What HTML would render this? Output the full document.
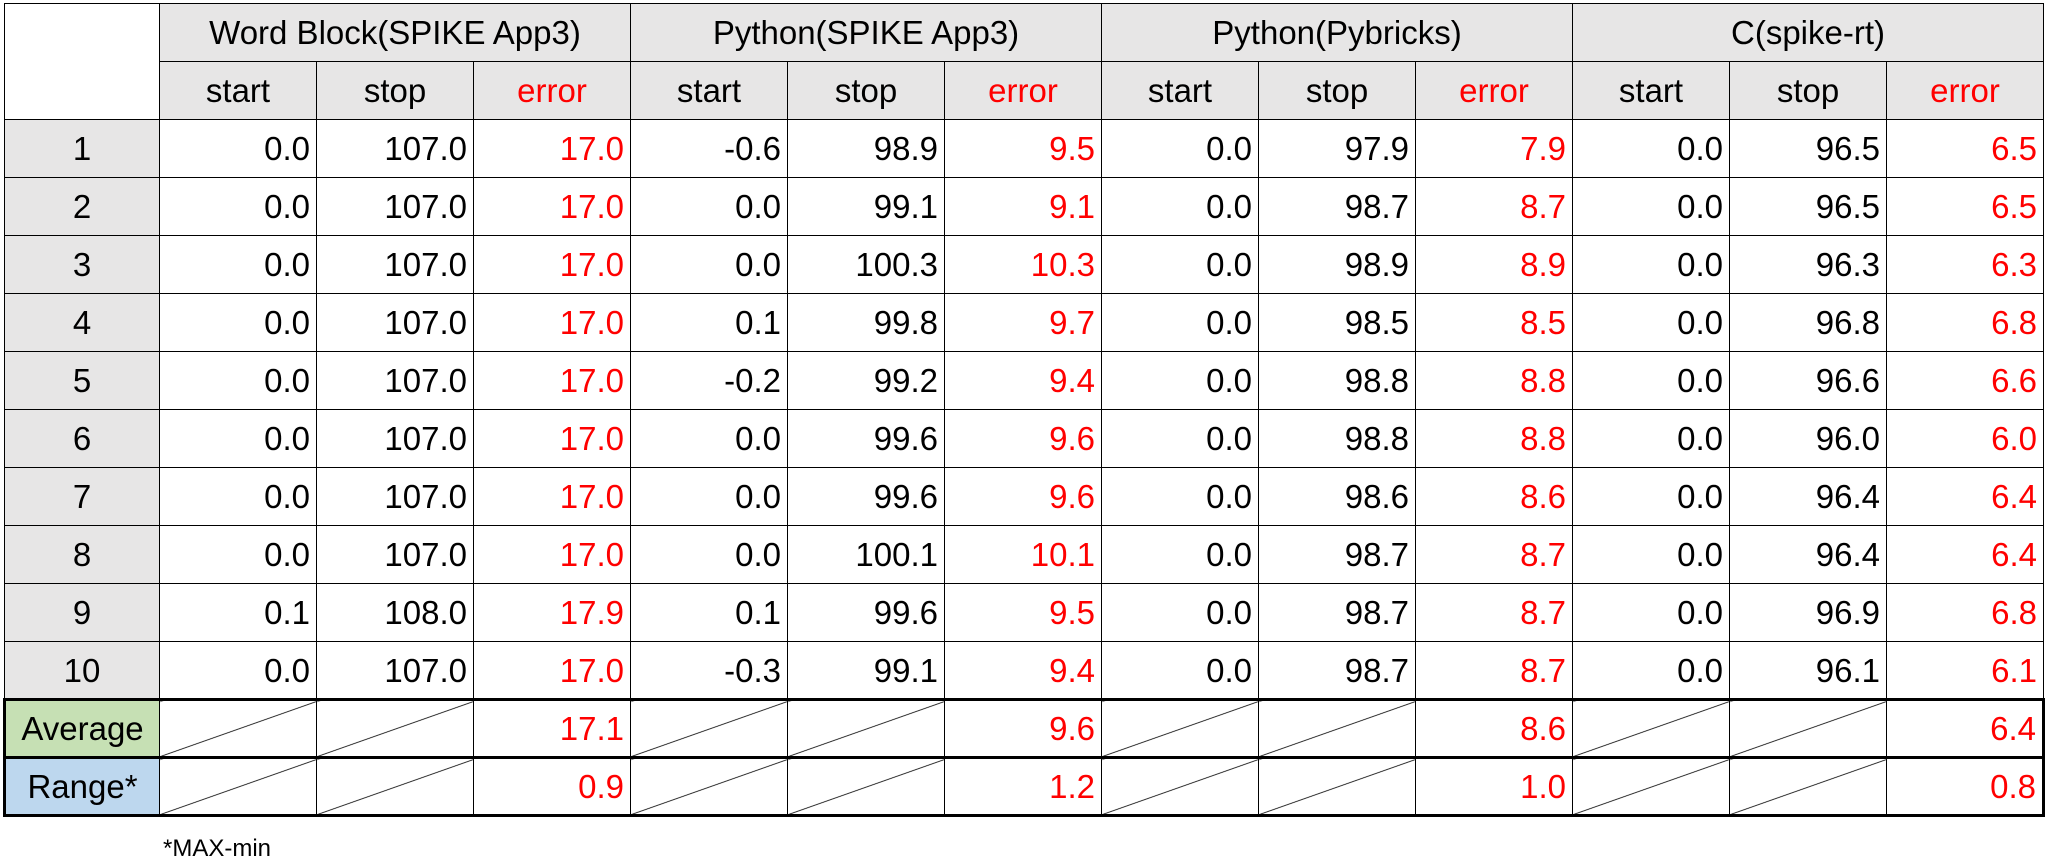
<!DOCTYPE html>
<html><head><meta charset="utf-8">
<style>
html,body{margin:0;padding:0;background:#fff;width:2046px;height:865px;overflow:hidden}
table{position:absolute;left:3px;top:3px;border-collapse:collapse;table-layout:fixed;font-family:"Liberation Sans",Arial,sans-serif;font-size:33px;color:#000}
td{border:1.5px solid #000;height:58px;padding:0 6px 0 0;box-sizing:border-box;text-align:right;white-space:nowrap;line-height:1}
td.h{background:#e7e6e6;text-align:center;padding:0}
td.l{background:#e7e6e6;text-align:center;padding:0}
.r{color:#f00}
td.g{background:#c6e0b4;text-align:center;padding:0}
td.b{background:#bdd7ee;text-align:center;padding:0}
td.d{background:linear-gradient(to bottom right,transparent calc(50% - 0.8px),#000 50%,transparent calc(50% + 0.8px))}
tr.t td{border-top:3px solid #000;border-bottom:3px solid #000}
tr.t td:first-child{border-left:3px solid #000}
tr.t td:last-child{border-right:3px solid #000}
.note{position:absolute;left:163px;top:835px;font-family:"Liberation Sans",Arial,sans-serif;font-size:24px}
</style></head><body>
<table>
<colgroup><col style="width:155px"><col span="12" style="width:157px"></colgroup>
<tr><td rowspan="2" style="background:#fff"></td><td class="h" colspan="3">Word Block(SPIKE App3)</td><td class="h" colspan="3">Python(SPIKE App3)</td><td class="h" colspan="3">Python(Pybricks)</td><td class="h" colspan="3">C(spike-rt)</td></tr>
<tr><td class="h">start</td><td class="h">stop</td><td class="h r">error</td><td class="h">start</td><td class="h">stop</td><td class="h r">error</td><td class="h">start</td><td class="h">stop</td><td class="h r">error</td><td class="h">start</td><td class="h">stop</td><td class="h r">error</td></tr>
<tr><td class="l">1</td><td>0.0</td><td>107.0</td><td class="r">17.0</td><td>-0.6</td><td>98.9</td><td class="r">9.5</td><td>0.0</td><td>97.9</td><td class="r">7.9</td><td>0.0</td><td>96.5</td><td class="r">6.5</td></tr>
<tr><td class="l">2</td><td>0.0</td><td>107.0</td><td class="r">17.0</td><td>0.0</td><td>99.1</td><td class="r">9.1</td><td>0.0</td><td>98.7</td><td class="r">8.7</td><td>0.0</td><td>96.5</td><td class="r">6.5</td></tr>
<tr><td class="l">3</td><td>0.0</td><td>107.0</td><td class="r">17.0</td><td>0.0</td><td>100.3</td><td class="r">10.3</td><td>0.0</td><td>98.9</td><td class="r">8.9</td><td>0.0</td><td>96.3</td><td class="r">6.3</td></tr>
<tr><td class="l">4</td><td>0.0</td><td>107.0</td><td class="r">17.0</td><td>0.1</td><td>99.8</td><td class="r">9.7</td><td>0.0</td><td>98.5</td><td class="r">8.5</td><td>0.0</td><td>96.8</td><td class="r">6.8</td></tr>
<tr><td class="l">5</td><td>0.0</td><td>107.0</td><td class="r">17.0</td><td>-0.2</td><td>99.2</td><td class="r">9.4</td><td>0.0</td><td>98.8</td><td class="r">8.8</td><td>0.0</td><td>96.6</td><td class="r">6.6</td></tr>
<tr><td class="l">6</td><td>0.0</td><td>107.0</td><td class="r">17.0</td><td>0.0</td><td>99.6</td><td class="r">9.6</td><td>0.0</td><td>98.8</td><td class="r">8.8</td><td>0.0</td><td>96.0</td><td class="r">6.0</td></tr>
<tr><td class="l">7</td><td>0.0</td><td>107.0</td><td class="r">17.0</td><td>0.0</td><td>99.6</td><td class="r">9.6</td><td>0.0</td><td>98.6</td><td class="r">8.6</td><td>0.0</td><td>96.4</td><td class="r">6.4</td></tr>
<tr><td class="l">8</td><td>0.0</td><td>107.0</td><td class="r">17.0</td><td>0.0</td><td>100.1</td><td class="r">10.1</td><td>0.0</td><td>98.7</td><td class="r">8.7</td><td>0.0</td><td>96.4</td><td class="r">6.4</td></tr>
<tr><td class="l">9</td><td>0.1</td><td>108.0</td><td class="r">17.9</td><td>0.1</td><td>99.6</td><td class="r">9.5</td><td>0.0</td><td>98.7</td><td class="r">8.7</td><td>0.0</td><td>96.9</td><td class="r">6.8</td></tr>
<tr><td class="l">10</td><td>0.0</td><td>107.0</td><td class="r">17.0</td><td>-0.3</td><td>99.1</td><td class="r">9.4</td><td>0.0</td><td>98.7</td><td class="r">8.7</td><td>0.0</td><td>96.1</td><td class="r">6.1</td></tr>
<tr class="t"><td class="g">Average</td><td class="d"></td><td class="d"></td><td class="r">17.1</td><td class="d"></td><td class="d"></td><td class="r">9.6</td><td class="d"></td><td class="d"></td><td class="r">8.6</td><td class="d"></td><td class="d"></td><td class="r">6.4</td></tr>
<tr class="t"><td class="b">Range*</td><td class="d"></td><td class="d"></td><td class="r">0.9</td><td class="d"></td><td class="d"></td><td class="r">1.2</td><td class="d"></td><td class="d"></td><td class="r">1.0</td><td class="d"></td><td class="d"></td><td class="r">0.8</td></tr>
</table>
<div class="note">*MAX-min</div>
</body></html>
